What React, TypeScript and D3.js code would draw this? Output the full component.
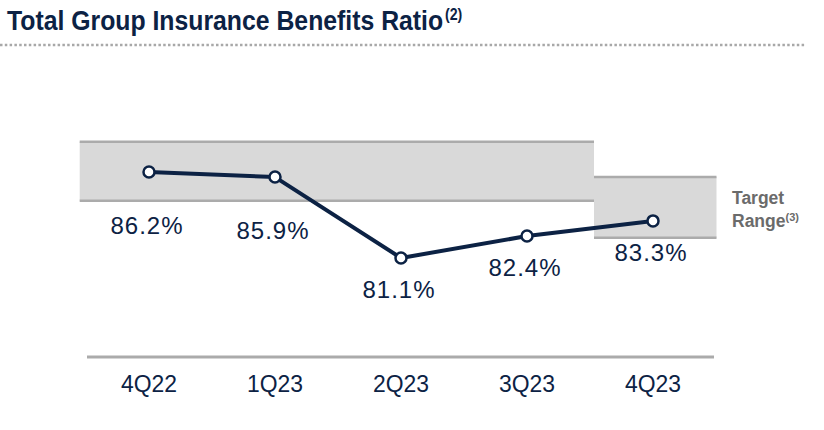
import * as d3 from "d3";
import { useRef, useLayoutEffect, useState } from "react";

const categories = ["4Q22", "1Q23", "2Q23", "3Q23", "4Q23"];
const ratios = [86.2, 85.9, 81.1, 82.4, 83.3];
const ratioLabels = ["86.2%", "85.9%", "81.1%", "82.4%", "83.3%"];
// target ranges: [low, high] and the quarters they cover
const targetLow = [84.5, 82.3];
const targetHigh = [88.0, 85.9];
const targetSpan = [
  ["4Q22", "3Q23"],
  ["4Q23", "4Q23"],
];

const navy = "#0c2244";
const width = 824;
const height = 430;
const titleWidth = 436;

export default function App() {
  const titleRef = useRef<SVGTextElement>(null);
  const [titleScale, setTitleScale] = useState(0.88);

  useLayoutEffect(() => {
    if (!titleRef.current) return;
    const natural = titleRef.current.getComputedTextLength();
    if (natural > 0) setTitleScale(titleWidth / natural);
  }, []);

  const x = d3.scalePoint<string>().domain(categories).range([149, 653]);
  const step = x.step();
  const y = d3.scaleLinear().domain([80, 90]).range([276.5, 108]);

  const line = d3
    .line<number>()
    .x((_, i) => x(categories[i]) as number)
    .y((d) => y(d));

  const bands = targetLow.map((lo, i) => {
    const [a, b] = targetSpan[i];
    const x0 = i === 0 ? (x(a) as number) - step * 0.55 : (x(a) as number) - step / 2 + 4;
    const x1 = i === 0 ? (x(b) as number) + step / 2 + 4 : (x(b) as number) + step / 2 + 0.5;
    return { x0, x1, y0: y(targetHigh[i]), y1: y(lo), lo };
  });

  return (
    <svg
      width={width}
      height={height}
      style={{ position: "absolute", left: 0, top: 0, background: "#fff" }}
    >
      <g
        transform={`translate(7,30) scale(${titleScale},1)`}
        fill={navy}
        fontFamily="'Liberation Sans', Arial, sans-serif"
        fontWeight="bold"
      >
        <text ref={titleRef} x={0} y={0} fontSize={28}>
          Total Group Insurance Benefits Ratio
        </text>
        <text x={(titleWidth + 2) / titleScale} y={-10} fontSize={16}>
          (2)
        </text>
      </g>
      <line
        x1={0}
        x2={806}
        y1={45}
        y2={45}
        stroke="#a8a8a8"
        strokeWidth={2.5}
        strokeDasharray="2.5 2.3"
      />

      {bands.map((b, i) => (
        <g key={i}>
          <rect x={b.x0} y={b.y0} width={b.x1 - b.x0} height={b.y1 - b.y0} fill="#d9d9d9" />
          <line x1={b.x0} x2={b.x1} y1={b.y0} y2={b.y0} stroke="#ababab" strokeWidth={2.5} />
          <line x1={b.x0} x2={b.x1} y1={b.y1} y2={b.y1} stroke="#ababab" strokeWidth={2.5} />
        </g>
      ))}

      <g
        fill="#6b6b6b"
        fontFamily="'Liberation Sans', Arial, sans-serif"
        fontWeight="bold"
        fontSize={17.5}
      >
        <text x={732} y={204}>Target</text>
        <text x={732} y={227}>
          Range
          <tspan fontSize={11} dy={-6}>
            (3)
          </tspan>
        </text>
      </g>

      <line x1={87} x2={714} y1={357} y2={357} stroke="#ababab" strokeWidth={3} />

      <path d={line(ratios) ?? ""} fill="none" stroke={navy} strokeWidth={4} strokeLinejoin="round" />
      {ratios.map((v, i) => (
        <circle
          key={i}
          cx={x(categories[i])}
          cy={y(v)}
          r={5.5}
          fill="#fff"
          stroke={navy}
          strokeWidth={2.5}
        />
      ))}

      {ratios.map((v, i) => {
        const inBand = v >= bands[0].lo && i < 4;
        const ly = y(v) + (inBand ? 62 : 40);
        return (
          <text
            key={i}
            x={(x(categories[i]) as number) - 2}
            y={ly}
            textAnchor="middle"
            fill={navy}
            fontFamily="'Liberation Sans', Arial, sans-serif"
            fontSize={24}
            letterSpacing={1}
          >
            {ratioLabels[i]}
          </text>
        );
      })}

      {categories.map((c) => (
        <text
          key={c}
          x={x(c)}
          y={392}
          textAnchor="middle"
          fill={navy}
          fontFamily="'Liberation Sans', Arial, sans-serif"
          fontSize={24}
          textLength={56}
          lengthAdjust="spacingAndGlyphs"
        >
          {c}
        </text>
      ))}
    </svg>
  );
}
